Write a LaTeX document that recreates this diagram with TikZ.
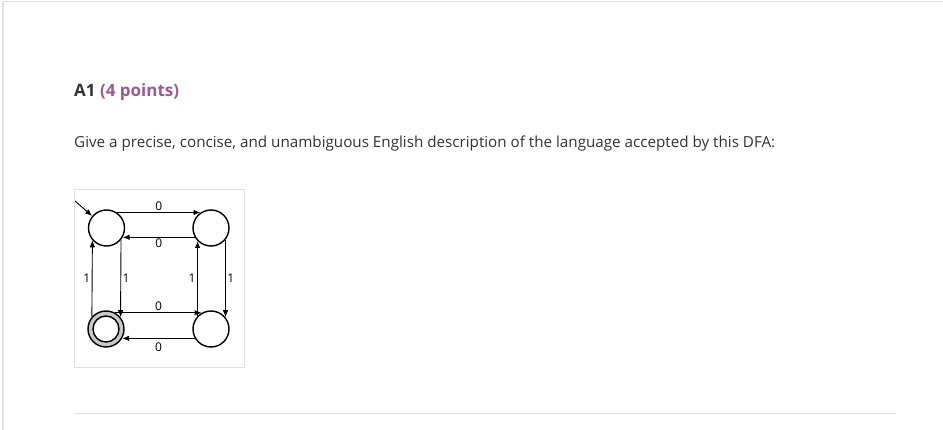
\documentclass[tikz,border=0pt]{standalone}
\usepackage{fontspec}
\setmainfont{Open Sans}
\usetikzlibrary{arrows.meta}
\definecolor{textgray}{RGB}{51,51,51}
\definecolor{pointspurple}{RGB}{155,89,150}
\definecolor{rulegray}{RGB}{225,225,225}
\definecolor{ringgray}{RGB}{200,200,200}

\begin{document}
\begin{tikzpicture}[
  x=1pt, y=-1pt,
  state/.style={circle, draw, line width=1.4pt, minimum size=36pt, inner sep=0pt},
  accepting/.style={fill=ringgray, path picture={
      \draw[line width=1.4pt, fill=white] (path picture bounding box.center) circle (13pt);}},
  arr/.style={-{Latex[length=7pt,width=5.5pt]}, line width=0.9pt},
  lbl/.style={font=\fontsize{12}{13}\selectfont, inner sep=1.5pt}]
  \useasboundingbox (0,0) rectangle (943,430);
  % page frame
  \draw[rulegray, line width=1.5pt] (3,430) -- (3,1.5) -- (943,1.5);
  \draw[rulegray, line width=1pt] (74,414) -- (896,414);
  % heading and question
  \node[anchor=base west, inner sep=0pt, font=\fontsize{17}{20}\selectfont\bfseries, text=textgray] (title) at (74,97)
    {A1 \textcolor{pointspurple}{(4 points)}};
  \node[anchor=base west, inner sep=0pt, font=\fontsize{15.2}{17}\selectfont, text=textgray] (question) at (74,148)
    {Give a precise, concise, and unambiguous English description of the language accepted by this DFA:};
  % picture frame
  \draw[rulegray, line width=0.8pt] (74,189) rectangle (244,367);
  % states
  \node[state] (q0) at (106.5,228) {};
  \node[state] (q1) at (211,228) {};
  \node[state, accepting] (q2) at (106,329) {};
  \node[state] (q3) at (211,329) {};
  % start arrow
  \coordinate (start) at (75,201);
  \draw[arr] (start) -- (q0.140);
  % transitions on 0
  \draw[arr] (q0.56) -- node[lbl, above] {0} (q1.124);
  \draw[arr] (q1.-150) -- node[lbl, below] {0} (q0.-30);
  \draw[arr] (q2.60) -- node[lbl, above] {0} (q3.120);
  \draw[arr] (q3.-150) -- node[lbl, below=2pt] {0} (q2.-30);
  % transitions on 1
  \draw[arr] (q2.139) -- node[lbl, left] {1} (q0.-139);
  \draw[arr] (q0.-39) -- node[lbl, right] {1} (q2.39);
  \draw[arr] (q3.136) -- node[lbl, left] {1} (q1.-136);
  \draw[arr] (q1.-39) -- node[lbl, right] {1} (q3.39);
\end{tikzpicture}
\end{document}
